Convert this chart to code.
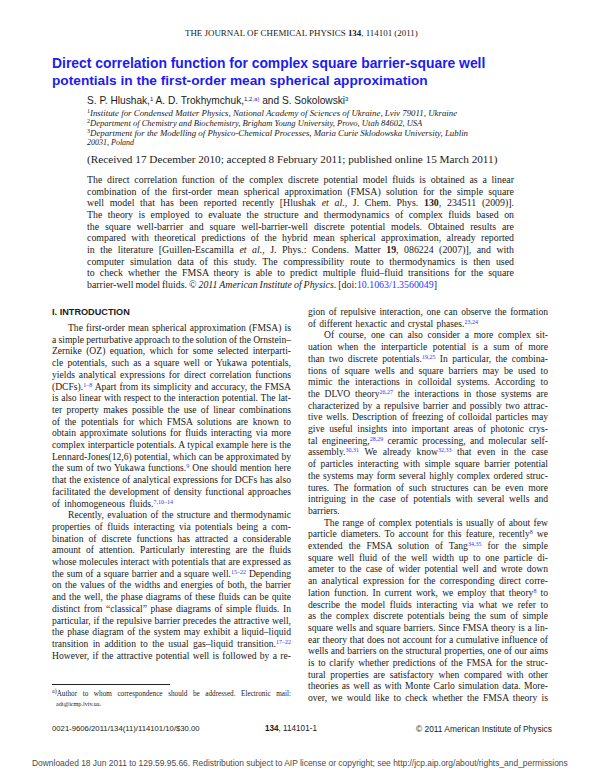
<!DOCTYPE html>
<html>
<head>
<meta charset="utf-8">
<script src="https://cdn.jsdelivr.net/npm/chart.js@4/dist/chart.umd.min.js"></script>
<style>
  html, body { margin: 0; padding: 0; background: #fff; }
  #page { position: relative; width: 600px; height: 776px; overflow: hidden; color: #1a1a1a; }
  .ln { position: absolute; height: 12px; line-height: 12px; white-space: pre; }
  .serif { font-family: "Liberation Serif", "Times New Roman", serif; }
  .sans { font-family: "Liberation Sans", Arial, sans-serif; }
  .r { font-size: 6px; vertical-align: 3.5px; color: #2f2fff; line-height: 0; }
  .k { font-size: 6px; vertical-align: 3.5px; line-height: 0; }
  a { color: #2f2fff; text-decoration: none; }
</style>
</head>
<body>
<div id="page"></div>
<script>
// page text, line by line as it is broken in the reference
const r = s => `<sup class="r">${s}</sup>`;
const k = s => `<sup class="k">${s}</sup>`;

const HEADER = 'THE JOURNAL OF CHEMICAL PHYSICS <b>134</b>, 114101 (2011)';
const TITLE = [
  'Direct correlation function for complex square barrier-square well',
  'potentials in the first-order mean spherical approximation'
];
const AUTHORS = `S. P. Hlushak,${k('1')} A. D. Trokhymchuk,${k('1,2,<a>a)</a>')} and S. Sokolowski${k('3')}`;
const AFFIL = [
  `${k('1')}<i>Institute for Condensed Matter Physics, National Academy of Sciences of Ukraine, Lviv 79011, Ukraine</i>`,
  `${k('2')}<i>Department of Chemistry and Biochemistry, Brigham Young University, Provo, Utah 84602, USA</i>`,
  `${k('3')}<i>Department for the Modelling of Physico-Chemical Processes, Maria Curie Sklodowska University, Lublin</i>`,
  '<i>20031, Poland</i>'
];
const RECEIVED = '(Received 17 December 2010; accepted 8 February 2011; published online 15 March 2011)';

const ABSTRACT = [
  'The direct correlation function of the complex discrete potential model fluids is obtained as a linear',
  'combination of the first-order mean spherical approximation (FMSA) solution for the simple square',
  'well model that has been reported recently [Hlushak <i>et al.</i>, J. Chem. Phys. <b>130</b>, 234511 (2009)].',
  'The theory is employed to evaluate the structure and thermodynamics of complex fluids based on',
  'the square well-barrier and square well-barrier-well discrete potential models. Obtained results are',
  'compared with theoretical predictions of the hybrid mean spherical approximation, already reported',
  'in the literature [Guillen-Escamilla <i>et al.</i>, J. Phys.: Condens. Matter <b>19</b>, 086224 (2007)], and with',
  'computer simulation data of this study. The compressibility route to thermodynamics is then used',
  'to check whether the FMSA theory is able to predict multiple fluid–fluid transitions for the square',
  'barrier-well model fluids. © <i>2011 American Institute of Physics</i>. [doi:<a>10.1063/1.3560049</a>]'
];
const ABSTRACT_LAST_END = 437;

const HEADING = 'I. INTRODUCTION';

const LEFT = [
  'The first-order mean spherical approximation (FMSA) is',
  'a simple perturbative approach to the solution of the Ornstein–',
  'Zernike (OZ) equation, which for some selected interparti-',
  'cle potentials, such as a square well or Yukawa potentials,',
  'yields analytical expressions for direct correlation functions',
  `(DCFs).${r('1–8')} Apart from its simplicity and accuracy, the FMSA`,
  'is also linear with respect to the interaction potential. The lat-',
  'ter property makes possible the use of linear combinations',
  'of the potentials for which FMSA solutions are known to',
  'obtain approximate solutions for fluids interacting via more',
  'complex interparticle potentials. A typical example here is the',
  'Lennard-Jones(12,6) potential, which can be approximated by',
  `the sum of two Yukawa functions.${r('9')} One should mention here`,
  'that the existence of analytical expressions for DCFs has also',
  'facilitated the development of density functional approaches',
  `of inhomogeneous fluids.${r('7,10–14')}`,
  'Recently, evaluation of the structure and thermodynamic',
  'properties of fluids interacting via potentials being a com-',
  'bination of discrete functions has attracted a considerable',
  'amount of attention. Particularly interesting are the fluids',
  'whose molecules interact with potentials that are expressed as',
  `the sum of a square barrier and a square well.${r('15–22')} Depending`,
  'on the values of the widths and energies of both, the barrier',
  'and the well, the phase diagrams of these fluids can be quite',
  'distinct from “classical” phase diagrams of simple fluids. In',
  'particular, if the repulsive barrier precedes the attractive well,',
  'the phase diagram of the system may exhibit a liquid–liquid',
  `transition in addition to the usual gas–liquid transition.${r('17–22')}`,
  'However, if the attractive potential well is followed by a re-'
];
const LEFT_INDENT = [0, 16];
const LEFT_ENDS = { 15: 173 };

const RIGHT = [
  'gion of repulsive interaction, one can observe the formation',
  `of different hexactic and crystal phases.${r('23,24')}`,
  'Of course, one can also consider a more complex sit-',
  'uation when the interparticle potential is a sum of more',
  `than two discrete potentials.${r('19,25')} In particular, the combina-`,
  'tions of square wells and square barriers may be used to',
  'mimic the interactions in colloidal systems. According to',
  `the DLVO theory${r('26,27')} the interactions in those systems are`,
  'characterized by a repulsive barrier and possibly two attrac-',
  'tive wells. Description of freezing of colloidal particles may',
  'give useful insights into important areas of photonic crys-',
  `tal engineering,${r('28,29')} ceramic processing, and molecular self-`,
  `assembly.${r('30,31')} We already know${r('32,33')} that even in the case`,
  'of particles interacting with simple square barrier potential',
  'the systems may form several highly complex ordered struc-',
  'tures. The formation of such structures can be even more',
  'intriguing in the case of potentials with several wells and',
  'barriers.',
  'The range of complex potentials is usually of about few',
  `particle diameters. To account for this feature, recently${r('8')} we`,
  `extended the FMSA solution of Tang${r('34,35')} for the simple`,
  'square well fluid of the well width up to one particle di-',
  'ameter to the case of wider potential well and wrote down',
  'an analytical expression for the corresponding direct corre-',
  `lation function. In current work, we employ that theory${r('8')} to`,
  'describe the model fluids interacting via what we refer to',
  'as the complex discrete potentials being the sum of simple',
  'square wells and square barriers. Since FMSA theory is a lin-',
  'ear theory that does not account for a cumulative influence of',
  'wells and barriers on the structural properties, one of our aims',
  'is to clarify whether predictions of the FMSA for the struc-',
  'tural properties are satisfactory when compared with other',
  'theories as well as with Monte Carlo simulation data. More-',
  'over, we would like to check whether the FMSA theory is'
];
const RIGHT_INDENT = [2, 18];
const RIGHT_ENDS = { 1: 478, 17: 338 };

const FOOTNOTE = [
  `${k('a)')}Author to whom correspondence should be addressed. Electronic mail:`,
  'adt@icmp.lviv.ua.'
];
const FOOTER = ['0021-9606/2011/134(11)/114101/10/$30.00', '<b>134</b>, 114101-1', '© 2011 American Institute of Physics'];
const DOWNLOADED = 'Downloaded 18 Jun 2011 to 129.59.95.66. Redistribution subject to AIP license or copyright; see http://jcp.aip.org/about/rights_and_permissions';

const page = document.getElementById('page');

// put one line on the page; fit = 'ws' stretches word gaps, 'size' scales the font
function place(html, x, y, w, cls, size, fit, extra) {
  const d = document.createElement('div');
  d.className = 'ln ' + cls;
  d.style.left = x + 'px';
  d.style.top = (y - 6) + 'px';
  d.style.fontSize = size + 'px';
  if (extra) Object.assign(d.style, extra);
  const s = document.createElement('span');
  s.innerHTML = html;
  d.appendChild(s);
  page.appendChild(d);
  if (!w) return d;
  const nat = s.getBoundingClientRect().width;
  if (fit === 'size') {
    d.style.fontSize = (size * w / nat).toFixed(3) + 'px';
  } else {
    const txt = s.textContent;
    const nSp = (txt.match(/ /g) || []).length;
    let ws = nSp ? (w - nat) / nSp : 0;
    if (ws < -1) {
      ws = -1;
      const rest = w - (nat + nSp * ws);
      d.style.letterSpacing = (rest / txt.length).toFixed(3) + 'px';
    }
    d.style.wordSpacing = ws.toFixed(3) + 'px';
  }
  return d;
}

function column(lines, x0, y0, step, width, indents, ends) {
  lines.forEach((t, i) => {
    const ind = indents.includes(i) ? 16 : 0;
    const x = x0 + ind;
    const w = ends[i] ? ends[i] - x : width - ind;
    place(t, x, y0 + i * step, w, 'serif', 9.6, 'ws');
  });
}

// header and title block
place(HEADER, 185, 33, 233, 'serif', 8.5, 'size');
TITLE.forEach((t, i) => {
  place(t, 52, 63 + i * 18, i === 0 ? 434 : 376, 'sans', 14, 'size',
    { fontWeight: 'bold', color: '#1c1cf2' });
});
place(AUTHORS, 87, 101, 262, 'sans', 10, 'size');
const affEnds = [458, 423, 469, null];
AFFIL.forEach((t, i) => place(t, 87, 113 + i * 10, affEnds[i] ? affEnds[i] - 87 : null, 'serif', 8, 'size'));
place(RECEIVED, 87, 159, 410, 'serif', 9.4, 'size');

// abstract
ABSTRACT.forEach((t, i) => {
  const last = i === ABSTRACT.length - 1;
  place(t, 87, 180 + i * 11.67, last ? ABSTRACT_LAST_END - 87 : 427, 'serif', 9.9, 'ws');
});

// introduction
place(HEADING, 52, 312, 78, 'sans', 9.5, 'size', { fontWeight: 'bold' });
column(LEFT, 52, 328, 11.7, 239, LEFT_INDENT, LEFT_ENDS);
column(RIGHT, 308, 312, 11.7, 240, RIGHT_INDENT, RIGHT_ENDS);

// footnote
const rule = document.createElement('div');
Object.assign(rule.style, { position: 'absolute', left: '52px', top: '684px', width: '118px', height: '0.7px', background: '#222' });
page.appendChild(rule);
place(FOOTNOTE[0], 52, 694, 239, 'serif', 7.2, 'ws');
place(FOOTNOTE[1], 56, 704, 45, 'serif', 7.2, 'size');

// running footer
place(FOOTER[0], 52, 729, 148, 'sans', 7.5, 'size');
place(FOOTER[1], 265, 729, 52, 'sans', 7.5, 'size');
place(FOOTER[2], 416, 729, 136, 'sans', 7.5, 'size');
place(DOWNLOADED, 32, 763, 536, 'sans', 7.2, 'size', { color: '#4a4a4a' });
</script>
</body>
</html>
